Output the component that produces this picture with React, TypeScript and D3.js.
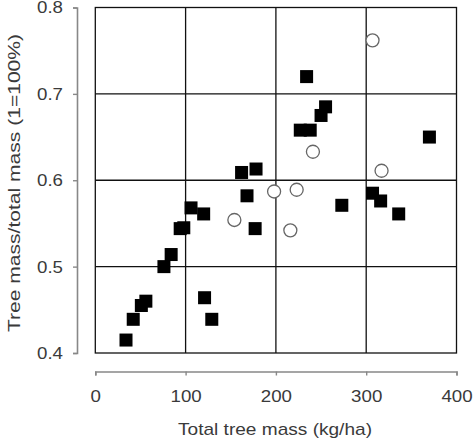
import React, { useEffect, useRef } from "react";
import * as d3 from "d3";

// filled squares
const squareMass = [34, 42, 51, 56, 76, 84, 94, 98, 106, 120, 121, 129, 162, 168, 177, 178, 227, 234, 238, 250, 255, 273, 307, 316, 336, 370];
const squareRatio = [0.415, 0.439, 0.455, 0.46, 0.5, 0.514, 0.544, 0.545, 0.568, 0.561, 0.464, 0.439, 0.609, 0.582, 0.544, 0.613, 0.658, 0.72, 0.658, 0.675, 0.685, 0.571, 0.585, 0.576, 0.561, 0.65];

// open circles
const circleMass = [154, 198, 216, 223, 241, 307, 317];
const circleRatio = [0.554, 0.587, 0.542, 0.589, 0.633, 0.762, 0.611];

const xTicks = [0, 100, 200, 300, 400];
const yTicks = [0.4, 0.5, 0.6, 0.7, 0.8];

const WIDTH = 474;
const HEIGHT = 443;
const PLOT = { LEFT: 95.3, RIGHT: 456.5, TOP: 7.5, BOTTOM: 353 };
const FONT = "Liberation Sans, Arial, sans-serif";
const TEXT_COLOR = "#3a3a3a";
const AXIS_COLOR = "#888";

// the original type is a bit wider than plain Arial
const stretch = (sel: any, k: number) =>
  sel.each(function (this: SVGTextElement) {
    const len = this.getComputedTextLength();
    d3.select(this).attr("textLength", len * k).attr("lengthAdjust", "spacingAndGlyphs");
  });

const App = () => {
  const svgRef = useRef<SVGSVGElement>(null);

  useEffect(() => {
    const svg = d3.select(svgRef.current);
    svg.selectAll("*").remove();

    const x = d3.scaleLinear().domain([0, 400]).range([PLOT.LEFT, PLOT.RIGHT]);
    const y = d3.scaleLinear().domain([0.4, 0.8]).range([PLOT.BOTTOM, PLOT.TOP]);

    // grid
    const grid = svg.append("g").attr("stroke", "#111").attr("stroke-width", 1.3);
    grid
      .selectAll("line.v")
      .data(xTicks.slice(1, -1))
      .join("line")
      .attr("x1", (d) => x(d))
      .attr("x2", (d) => x(d))
      .attr("y1", PLOT.TOP)
      .attr("y2", PLOT.BOTTOM);
    grid
      .selectAll("line.h")
      .data(yTicks.slice(1, -1))
      .join("line")
      .attr("x1", PLOT.LEFT)
      .attr("x2", PLOT.RIGHT)
      .attr("y1", (d) => y(d))
      .attr("y2", (d) => y(d));
    svg
      .append("rect")
      .attr("x", PLOT.LEFT)
      .attr("y", PLOT.TOP)
      .attr("width", PLOT.RIGHT - PLOT.LEFT)
      .attr("height", PLOT.BOTTOM - PLOT.TOP)
      .attr("fill", "none")
      .attr("stroke", "#111")
      .attr("stroke-width", 1.3);

    // detached axes
    const xAxis = d3
      .axisBottom(x)
      .tickValues(xTicks)
      .tickSize(4)
      .tickPadding(14)
      .tickFormat(d3.format("d"));
    const yAxis = d3
      .axisLeft(y)
      .tickValues(yTicks)
      .tickSize(4)
      .tickPadding(10)
      .tickFormat(d3.format(".1f"));

    const gx = svg.append("g").attr("transform", `translate(0,371.5)`).call(xAxis);
    const gy = svg.append("g").attr("transform", `translate(77,0)`).call(yAxis);

    [gx, gy].forEach((g) => {
      g.selectAll(".domain").attr("stroke", AXIS_COLOR).attr("stroke-width", 1.6);
      g.selectAll(".tick line").attr("stroke", AXIS_COLOR).attr("stroke-width", 1.4);
      const t = g
        .selectAll(".tick text")
        .attr("fill", TEXT_COLOR)
        .style("font-family", FONT)
        .style("font-size", "17px");
      stretch(t, 1.1);
    });

    // axis titles
    svg
      .append("text")
      .attr("x", 275)
      .attr("y", 435)
      .attr("text-anchor", "middle")
      .attr("fill", TEXT_COLOR)
      .attr("textLength", 194)
      .attr("lengthAdjust", "spacingAndGlyphs")
      .style("font-family", FONT)
      .style("font-size", "17px")
      .text("Total tree mass (kg/ha)");
    svg
      .append("text")
      .attr("transform", `translate(20,183) rotate(-90)`)
      .attr("text-anchor", "middle")
      .attr("fill", TEXT_COLOR)
      .attr("textLength", 298)
      .attr("lengthAdjust", "spacingAndGlyphs")
      .style("font-family", FONT)
      .style("font-size", "17px")
      .text("Tree mass/total mass (1=100%)");

    // points
    const s = 13;
    svg
      .append("g")
      .selectAll("rect")
      .data(d3.range(squareMass.length))
      .join("rect")
      .attr("x", (i) => x(squareMass[i]) - s / 2)
      .attr("y", (i) => y(squareRatio[i]) - s / 2)
      .attr("width", s)
      .attr("height", s)
      .attr("fill", "#000");
    svg
      .append("g")
      .selectAll("circle")
      .data(d3.range(circleMass.length))
      .join("circle")
      .attr("cx", (i) => x(circleMass[i]))
      .attr("cy", (i) => y(circleRatio[i]))
      .attr("r", 6.5)
      .attr("fill", "#fff")
      .attr("stroke", "#666")
      .attr("stroke-width", 1.3);
  }, []);

  return (
    <svg
      ref={svgRef}
      width={WIDTH}
      height={HEIGHT}
      style={{ position: "absolute", left: 0, top: 0, background: "#fff" }}
    ></svg>
  );
};

export default App;
